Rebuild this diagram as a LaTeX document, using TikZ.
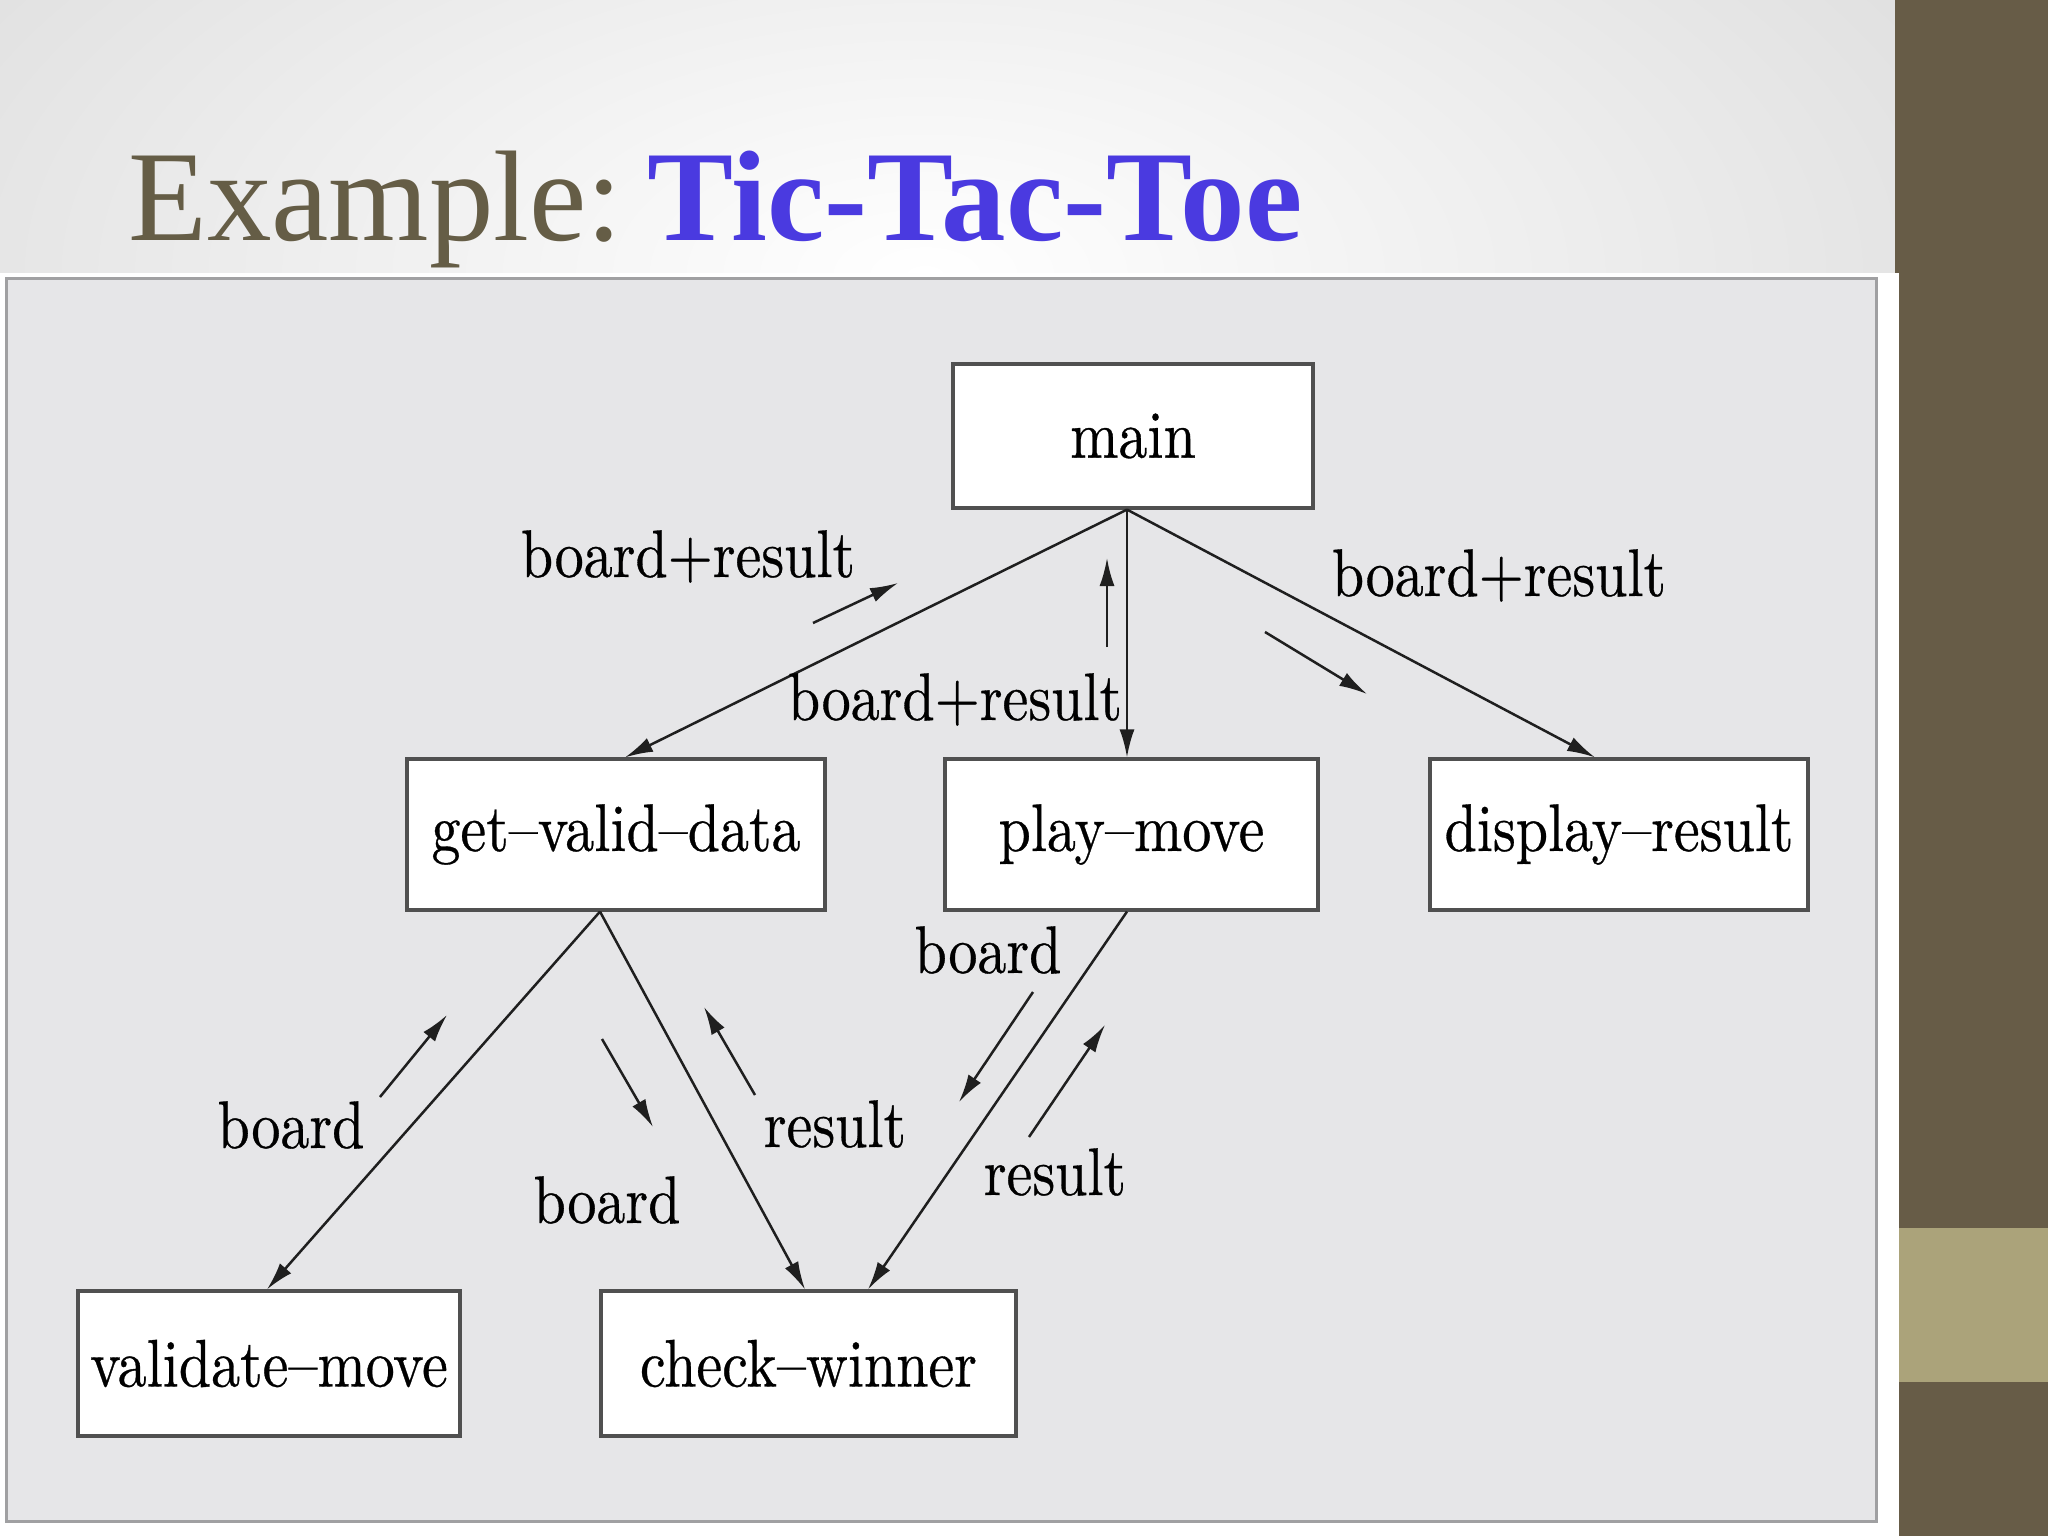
\documentclass[tikz,border=0pt]{standalone}
\usepackage{fontspec}
\usepackage{graphicx}
\usetikzlibrary{arrows.meta}
\newfontfamily\titlefont{Liberation Serif}
\newfontfamily\cmtext[Extension=.otf, FakeBold=0.5]{lmroman10-regular}
\definecolor{barbrown}{RGB}{103,92,71}
\definecolor{khaki}{RGB}{171,163,122}
\definecolor{titlebrown}{RGB}{101,93,70}
\definecolor{titleblue}{RGB}{74,58,224}
\definecolor{panelgray}{RGB}{230,230,232}
\definecolor{panelborder}{RGB}{160,160,162}
\definecolor{boxgray}{RGB}{80,80,80}
\newcommand{\vst}[1]{\scalebox{1}[1.16]{#1}}
\tikzset{
  box/.style={draw=boxgray, line width=3.2pt, fill=white, inner sep=0pt,
    font=\cmtext\fontsize{58}{60}\selectfont},
  lbl/.style={inner sep=0pt, anchor=base, font=\cmtext\fontsize{58}{60}\selectfont},
  conn/.style={line width=2.5pt, draw=black!88, -{Latex[length=28pt,width=15pt]}},
  small/.style={line width=2.5pt, draw=black!88, -{Latex[length=28pt,width=15pt]}}
}
\begin{document}
\begin{tikzpicture}[x=1pt,y=-1pt]
\useasboundingbox (0,0) rectangle (2048,1536);
% backgrounds
\begin{scope}
  \clip (0,0) rectangle (1896,280);
  \shade[inner color=white, outer color=black!12] (-200,-300) rectangle (2050,850);
\end{scope}
\fill[barbrown] (1895,0) rectangle (2048,1536);
\fill[khaki] (1899,1228) rectangle (2048,1382);
\fill[white] (0,273) rectangle (1899,1536);
\draw[panelborder, line width=3pt, fill=panelgray] (6,278) rectangle (1876,1521);
% title
\node[anchor=base west, inner sep=0pt, font=\titlefont\fontsize{129}{131}\selectfont] (title) at (128,240)
  {\textcolor{titlebrown}{Example:}\hspace{25pt}\textcolor{titleblue}{\bfseries Tic-Tac-Toe}};
% boxes
\node[box, minimum width=360pt, minimum height=144pt] (main) at (1133,436) {\vst{main}};
\node[box, minimum width=418pt, minimum height=151pt] (gvd) at (616,834.5) {\vst{get–valid–data}};
\node[box, minimum width=373pt, minimum height=151pt] (pm) at (1131.5,834.5) {\vst{play–move}};
\node[box, minimum width=378pt, minimum height=151pt] (dr) at (1619,834.5) {\vst{display–result}};
\node[box, minimum width=382pt, minimum height=145pt] (vm) at (269,1363.5) {\vst{validate–move}};
\node[box, minimum width=415pt, minimum height=145pt] (cw) at (808.5,1363.5) {\vst{check–winner}};
% connectors
\draw[conn] ([xshift=-6pt]main.south) -- ([xshift=9pt]gvd.north);
\draw[conn] ([xshift=-6pt]main.south) -- ([xshift=-4.5pt]pm.north);
\draw[conn] ([xshift=-6pt]main.south) -- ([xshift=-24pt]dr.north);
\draw[conn] ([xshift=-16pt]gvd.south) -- ([xshift=-2pt]vm.north);
\draw[conn] ([xshift=-16pt]gvd.south) -- ([xshift=-3.5pt]cw.north);
\draw[conn] ([xshift=-4.5pt]pm.south) -- ([xshift=59.5pt]cw.north);
% direction arrows
\coordinate (a1s) at (813,623); \coordinate (a1e) at (898,583);
\coordinate (a2s) at (1107,647); \coordinate (a2e) at (1107,558);
\coordinate (a3s) at (1265,632); \coordinate (a3e) at (1367,694);
\coordinate (a4s) at (380,1097); \coordinate (a4e) at (447,1015);
\coordinate (a5s) at (602,1039); \coordinate (a5e) at (653,1127);
\coordinate (a6s) at (755,1095); \coordinate (a6e) at (704,1007);
\coordinate (a7s) at (1033,992); \coordinate (a7e) at (959,1102);
\coordinate (a8s) at (1029,1137); \coordinate (a8e) at (1105,1025);
\draw[small] (a1s) -- (a1e);
\draw[small] (a2s) -- (a2e);
\draw[small] (a3s) -- (a3e);
\draw[small] (a4s) -- (a4e);
\draw[small] (a5s) -- (a5e);
\draw[small] (a6s) -- (a6e);
\draw[small] (a7s) -- (a7e);
\draw[small] (a8s) -- (a8e);
% labels
\node[lbl] (l1) at (688,577) {\vst{board+result}};
\node[lbl] (l2) at (955,720) {\vst{board+result}};
\node[lbl] (l3) at (1499,596) {\vst{board+result}};
\node[lbl] (l4) at (291,1148) {\vst{board}};
\node[lbl] (l5) at (607,1223) {\vst{board}};
\node[lbl] (l6) at (835,1147) {\vst{result}};
\node[lbl] (l7) at (988,973) {\vst{board}};
\node[lbl] (l8) at (1055,1195) {\vst{result}};
\end{tikzpicture}
\end{document}
